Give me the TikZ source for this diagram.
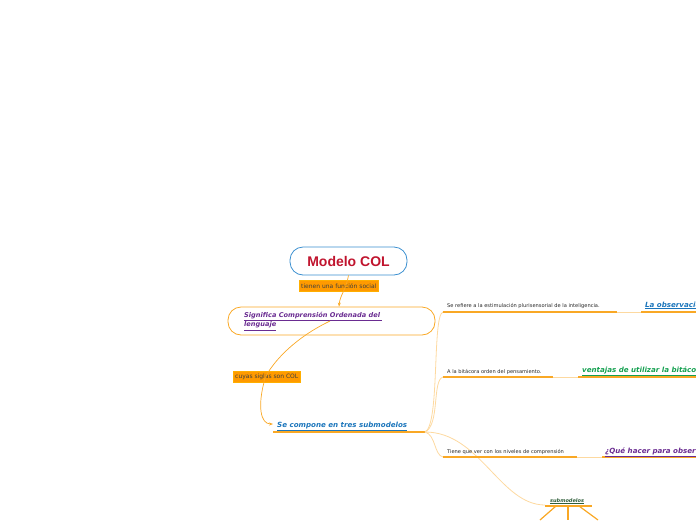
\documentclass[tikz,border=0pt]{standalone}
\usepackage{fontspec}
\setmainfont{DejaVu Sans}
\newfontfamily\arialf{Liberation Sans}
\usetikzlibrary{arrows.meta}
\definecolor{org}{HTML}{F9A825}
\definecolor{lab}{HTML}{FF9A00}
\definecolor{orgl}{HTML}{FDD9A0}
\definecolor{bl}{HTML}{3A8FD0}
\definecolor{crim}{HTML}{C0142E}
\definecolor{pur}{HTML}{6A2C91}
\definecolor{lnk}{HTML}{1B75BB}
\definecolor{grn}{HTML}{14A050}
\definecolor{dgrn}{HTML}{2F5E3A}
\tikzset{x=1pt,y=-1pt,
 lbl/.style={fill=lab,draw=lab!80!yellow,line width=0.4pt,inner sep=2pt,font=\fontsize{6}{7}\selectfont,text=black!75,anchor=north west,minimum height=11pt},
 small/.style={font=\fontsize{5.1}{6}\selectfont,text=black!85,anchor=base west,inner sep=0},
 topic/.style={font=\fontsize{7.1}{8}\selectfont\bfseries\itshape,anchor=base west,inner sep=0},
 br/.style={org,line width=1.2pt},
 lt/.style={orgl,line width=0.8pt},
 con/.style={org,line width=0.7pt}}
\begin{document}
\begin{tikzpicture}
\useasboundingbox (0,0) rectangle (696,520);
\clip (0,0) rectangle (696,520);
\node[draw=bl,line width=0.8pt,rounded corners=13pt,minimum width=117pt,minimum height=28pt,font=\arialf\fontsize{14}{16}\selectfont\bfseries,text=crim] (m) at (348.5,261) {Modelo COL};
\node[lbl] (l1) at (299,280) {tienen una función social};
\node[draw=org,line width=0.8pt,rounded corners=13pt,minimum width=207pt,minimum height=28pt] (s) at (331.5,321) {};
\node[topic,anchor=north west,align=left,text=pur,font=\fontsize{6.6}{8}\selectfont\bfseries\itshape] (st) at (244,312) {\underline{Significa Comprensión Ordenada del }\\\underline{lenguaje}};
\node[lbl] (l2) at (233,371) {cuyas siglas son COL};
\node[topic,text=lnk] (c) at (277,427) {\underline{Se compone en tres submodelos}};
\coordinate (cu0) at (273,432);
\coordinate (cu1) at (425,432);
\draw[con,-{Stealth[length=4pt]}] (m.south) .. controls (346,290) and (340,295) .. (s.north -| 339,0);
\draw[con,-{Stealth[length=4pt]}] (330,321) .. controls (280,345) and (262,380) .. (l2.south -| 264,0) .. controls (258,405) and (260,424) .. (273,424);
\draw[br] (cu0) -- (cu1);
\draw[lt] (cu1) .. controls (440,425) and (432,315) .. (443,312);
\draw[lt] (cu1) .. controls (440,425) and (432,380) .. (443,377);
\draw[lt] (cu1) .. controls (436,435) and (434,455) .. (443,457);
\draw[lt] (cu1) .. controls (480,432) and (500,505) .. (545,505);
\node[small] (t1) at (447,307) {Se refiere a la estimulación plurisensorial de la inteligencia.};
\draw[br] (443,312) -- (617,312); \draw[lt] (617,312) -- (641,312); \draw[br] (641,312) -- (696,312);
\node[topic,text=lnk] (o1) at (645,307) {\underline{La observación}};
\node[small] (t2) at (447,373) {A la bitácora orden del pensamiento.};
\draw[br] (443,377) -- (553,377); \draw[lt] (553,377) -- (578,377); \draw[br] (578,377) -- (696,377);
\node[topic,text=grn] (o2) at (582,372.5) {\underline{ventajas de utilizar la bitácora }};
\node[small] (t3) at (447,453) {Tiene que ver con los niveles de comprensión};
\draw[br] (443,457) -- (577,457); \draw[lt] (577,457) -- (602,457); \draw[br] (602,457) -- (696,457);
\node[topic,text=pur] (o3) at (605,453) {\underline{¿Qué hacer para observar}};
\node[topic,text=dgrn,font=\fontsize{5}{6}\selectfont\bfseries\itshape] (sb) at (550,502) {\underline{submodelos}};
\draw[br] (545,506) -- (592,506);
\draw[br] (568,506) -- (568,520);
\draw[br] (556,506) -- (540,520);
\draw[br] (579,506) -- (598,520);
\end{tikzpicture}
\end{document}
